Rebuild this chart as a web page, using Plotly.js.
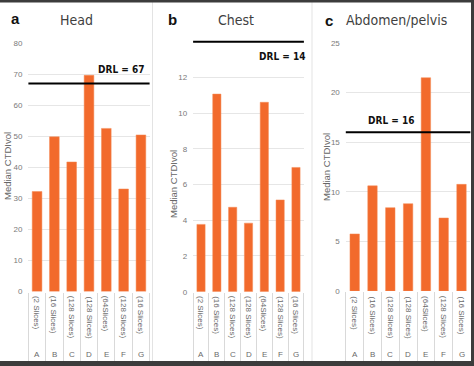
<!DOCTYPE html>
<html>
<head>
<meta charset="utf-8">
<script src="https://cdn.plot.ly/plotly-3.0.1.min.js"></script>
<style>html,body{margin:0;padding:0;background:#fff;}#chart{width:474px;height:366px;}</style>
</head>
<body>
<div id="chart"></div>
<script>
var categories = ['A','B','C','D','E','F','G'];
var sliceLabels = ['(2 Slices)','(16 Slices)','(128 Slices)','(128 Slices)','(64Slices)','(128 Slices)','(16 Slices)'];
var headValues = [32.2, 49.8, 41.7, 69.6, 52.5, 33.0, 50.4];
var chestValues = [3.77, 11.07, 4.73, 3.84, 10.61, 5.14, 6.96];
var abdomenValues = [5.75, 10.6, 8.4, 8.8, 21.5, 7.36, 10.75];
var panelTitles = ['Head', 'Chest', 'Abdomen/pelvis'];
var panelLetters = ['a', 'b', 'c'];
var drlValues = [67, 14, 16];
var yTitle = 'Median CTDIvol';

var W = 474, H = 366;
function px(x){ return x / W; }
function py(y){ return (H - y) / H; }

var barColor = '#f26a2c';
var gridColor = '#e6e6e6';
var tickColor = '#7a7a7a';
var narrow = '"Liberation Sans Narrow", "DejaVu Sans Condensed", Arial, sans-serif';

var series = [headValues, chestValues, abdomenValues];
var barWidths = [0.56, 0.52, 0.53];
var axSuffix = ['', '2', '3'];

var traces = series.map(function(vals, i){
  return {
    type: 'bar', x: categories, y: vals,
    xaxis: 'x' + axSuffix[i], yaxis: 'y' + axSuffix[i],
    width: barWidths[i],
    marker: {color: barColor, line: {color: '#f58a55', width: 0.5}},
    hoverinfo: 'skip'
  };
});

var xDomains = [[px(28.4), px(149.6)], [px(193.1), px(303.9)], [px(345.8), px(470.4)]];
var yDomains = [[py(291.5), py(43)], [py(291.7), py(36.4)], [py(291), py(43)]];
var yRanges = [[0, 80], [0, 14.3], [0, 25]];
var yTicks = [[0,10,20,30,40,50,60,70,80], [0,2,4,6,8,10,12], [0,5,10,15,20,25]];

var layout = {
  width: W, height: H,
  margin: {l: 0, r: 0, t: 0, b: 0},
  paper_bgcolor: '#ffffff', plot_bgcolor: '#ffffff',
  showlegend: false,
  font: {family: 'Arial, "Liberation Sans", sans-serif', color: tickColor},
  annotations: [], shapes: []
};

for (var i = 0; i < 3; i++) {
  var s = axSuffix[i];
  layout['xaxis' + s] = {
    domain: xDomains[i], type: 'category', range: [-0.5, 6.5],
    showticklabels: false, showgrid: false, zeroline: false, showline: false,
    ticks: 'outside', tickson: 'boundaries', ticklen: 69, tickwidth: 1, tickcolor: '#d9d9d9',
    anchor: 'y' + s, fixedrange: true
  };
  layout['yaxis' + s] = {
    domain: yDomains[i], range: yRanges[i], tickvals: yTicks[i],
    showgrid: true, gridcolor: gridColor, gridwidth: 1, zeroline: false, showline: false,
    ticks: '', ticklabelstandoff: 5,
    tickfont: {size: 8, color: tickColor},
    anchor: 'x' + s, fixedrange: true
  };
}

// Category annotations (rotated slice labels + letters)
var xrefs = ['x', 'x2', 'x3'];
for (var p = 0; p < 3; p++) {
  for (var c = 0; c < categories.length; c++) {
    layout.annotations.push({
      xref: xrefs[p], yref: 'paper', x: categories[c], y: py(294),
      text: sliceLabels[c], textangle: 90, showarrow: false,
      xanchor: 'center', yanchor: 'top',
      font: {size: 8, color: '#6a6a6a'}
    });
    layout.annotations.push({
      xref: xrefs[p], yref: 'paper', x: categories[c], y: py(354),
      text: categories[c], showarrow: false,
      xanchor: 'center', yanchor: 'middle',
      font: {size: 8, color: '#6a6a6a'}
    });
  }
}

// Titles, panel letters, y-axis titles, DRL labels
var titleX = [76, 236, 396];
var titleY = [20, 20, 20];
var letterX = [15, 172, 329];
var letterY = [19, 20, 21];
var yTitleX = [8, 173, 327];
var yTitleY = [166, 184, 167];
var drlTextX = [121, 282, 391];
var drlTextY = [69.5, 57, 120];

for (var k = 0; k < 3; k++) {
  layout.annotations.push({
    xref: 'paper', yref: 'paper', x: px(titleX[k]), y: py(titleY[k]),
    text: panelTitles[k], showarrow: false, xanchor: 'center', yanchor: 'middle',
    font: {family: narrow, size: 14, color: '#3f3f3f'}
  });
  layout.annotations.push({
    xref: 'paper', yref: 'paper', x: px(letterX[k]), y: py(letterY[k]),
    text: '<b>' + panelLetters[k] + '</b>', showarrow: false, xanchor: 'center', yanchor: 'middle',
    font: {family: 'Arial, "Liberation Sans", sans-serif', size: 15, color: '#111111'}
  });
  layout.annotations.push({
    xref: 'paper', yref: 'paper', x: px(yTitleX[k]), y: py(yTitleY[k]),
    text: yTitle, textangle: -90, showarrow: false, xanchor: 'center', yanchor: 'middle',
    font: {size: 9.5, color: '#666666'}
  });
  layout.annotations.push({
    xref: 'paper', yref: 'paper', x: px(drlTextX[k]), y: py(drlTextY[k]),
    text: '<b>DRL = ' + drlValues[k] + '</b>', showarrow: false, xanchor: 'center', yanchor: 'middle',
    font: {family: narrow, size: 10, color: '#111111'}
  });
  layout.shapes.push({
    type: 'line', xref: xrefs[k] + ' domain', yref: 'y' + axSuffix[k],
    x0: 0, x1: 1, y0: drlValues[k], y1: drlValues[k],
    line: {color: '#000000', width: 2}
  });
}

// Panel dividers and dark frame
layout.shapes.push({type: 'line', xref: 'paper', yref: 'paper', x0: px(152.5), x1: px(152.5), y0: 0, y1: 1, line: {color: '#e3e3e3', width: 1}});
layout.shapes.push({type: 'line', xref: 'paper', yref: 'paper', x0: px(312), x1: px(312), y0: 0, y1: 1, line: {color: '#e3e3e3', width: 1}});
layout.shapes.push({type: 'rect', xref: 'paper', yref: 'paper', x0: 0, x1: 1, y0: py(2.5), y1: 1, fillcolor: '#3c3c3c', line: {width: 0}});
layout.shapes.push({type: 'rect', xref: 'paper', yref: 'paper', x0: 0, x1: 1, y0: 0, y1: py(361), fillcolor: '#3c3c3c', line: {width: 0}});
layout.shapes.push({type: 'rect', xref: 'paper', yref: 'paper', x0: px(471), x1: 1, y0: 0, y1: 1, fillcolor: '#3c3c3c', line: {width: 0}});

Plotly.newPlot('chart', traces, layout, {displayModeBar: false, staticPlot: true});
</script>
</body>
</html>
